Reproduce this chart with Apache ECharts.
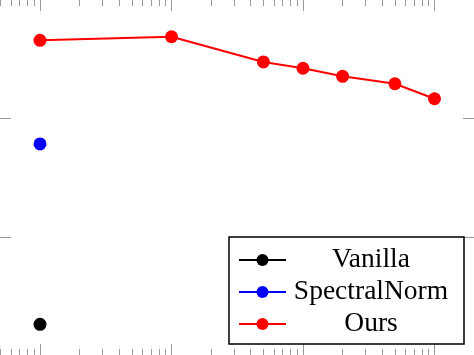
<!DOCTYPE html>
<html>
<head>
<meta charset="utf-8">
<script src="https://cdn.jsdelivr.net/npm/echarts@6/dist/echarts.min.js"></script>
<style>
  html, body { margin: 0; padding: 0; overflow: hidden; background: #fff; }
  #chart { position: absolute; left: -3px; top: -3px; width: 480px; height: 361px; }
</style>
</head>
<body>
<div id="chart"></div>
<script>
// data (x on a log scale)
const oursX = [1, 10, 50, 100, 200, 500, 1000]
const oursY = [2.653, 2.683, 2.471, 2.418, 2.350, 2.288, 2.162]
const spectralX = [1]
const spectralY = [1.782]
const vanillaX = [1]
const vanillaY = [0.266]
const legendNames = ['Vanilla', 'SpectralNorm', 'Ours']

// visible x window of the cropped plot
const xMin = 0.4877
const xMax = 2032

// log tick positions (major at decades, minor at 2..9)
const majorTicks = []
const minorTicks = []
for (let e = -1; e <= 3; e++) {
  for (let m = 1; m <= 9; m++) {
    const v = m * Math.pow(10, e)
    if (v < xMin || v > xMax) continue
    if (m === 1) majorTicks.push(Math.log10(v))
    else minorTicks.push(Math.log10(v))
  }
}

const tickColor = '#999'
const font = 'Liberation Serif'

const tickAxis = (position, values, length) => ({
  type: 'value',
  position,
  min: Math.log10(xMin),
  max: Math.log10(xMax),
  axisLine: { show: false, onZero: false },
  axisLabel: { show: false },
  splitLine: { show: false },
  axisTick: {
    show: true,
    inside: true,
    length,
    customValues: values,
    lineStyle: { color: tickColor, width: 1 }
  }
})

const yAxisOpt = position => ({
  type: 'value',
  position,
  min: 0,
  max: 3,
  interval: 1,
  axisLine: { show: false, onZero: false },
  axisLabel: { show: false },
  splitLine: { show: false },
  axisTick: { show: true, inside: true, length: 12, lineStyle: { color: tickColor, width: 1 } }
})

const toPairs = (xs, ys) => xs.map((x, i) => [x, ys[i]])

const chart = echarts.init(document.getElementById('chart'))
chart.setOption({
  animation: false,
  grid: { left: 2, right: 2, top: 2, bottom: 2, outerBoundsMode: 'none' },
  xAxis: [
    { type: 'log', min: xMin, max: xMax, show: false },
    tickAxis('bottom', majorTicks, 12),
    tickAxis('bottom', minorTicks, 7),
    tickAxis('top', majorTicks, 12),
    tickAxis('top', minorTicks, 7)
  ],
  yAxis: [yAxisOpt('left'), yAxisOpt('right')],
  legend: {
    data: legendNames,
    orient: 'vertical',
    left: 232,
    top: 240,
    padding: [8, 13, 5, 9],
    itemWidth: 47,
    itemHeight: 15,
    itemGap: 2,
    itemTextGap: 1,
    backgroundColor: '#fff',
    borderColor: '#000',
    borderWidth: 1.5,
    borderRadius: 0,
    formatter: name => '{t|' + name + '}',
    textStyle: {
      lineHeight: 30,
      rich: {
        t: { width: 160, height: 30, align: 'center', fontFamily: font, fontSize: 27.5, lineHeight: 30, color: '#000' }
      }
    }
  },
  series: [
    {
      name: 'Vanilla',
      type: 'line',
      data: toPairs(vanillaX, vanillaY),
      symbol: 'circle',
      symbolSize: 13,
      itemStyle: { color: '#000' },
      lineStyle: { color: '#000', width: 2 }
    },
    {
      name: 'SpectralNorm',
      type: 'line',
      data: toPairs(spectralX, spectralY),
      symbol: 'circle',
      symbolSize: 13,
      itemStyle: { color: '#0000ff' },
      lineStyle: { color: '#0000ff', width: 2 }
    },
    {
      name: 'Ours',
      type: 'line',
      data: toPairs(oursX, oursY),
      symbol: 'circle',
      symbolSize: 13,
      itemStyle: { color: '#ff0000' },
      lineStyle: { color: '#ff0000', width: 2 }
    }
  ]
})
</script>
</body>
</html>
